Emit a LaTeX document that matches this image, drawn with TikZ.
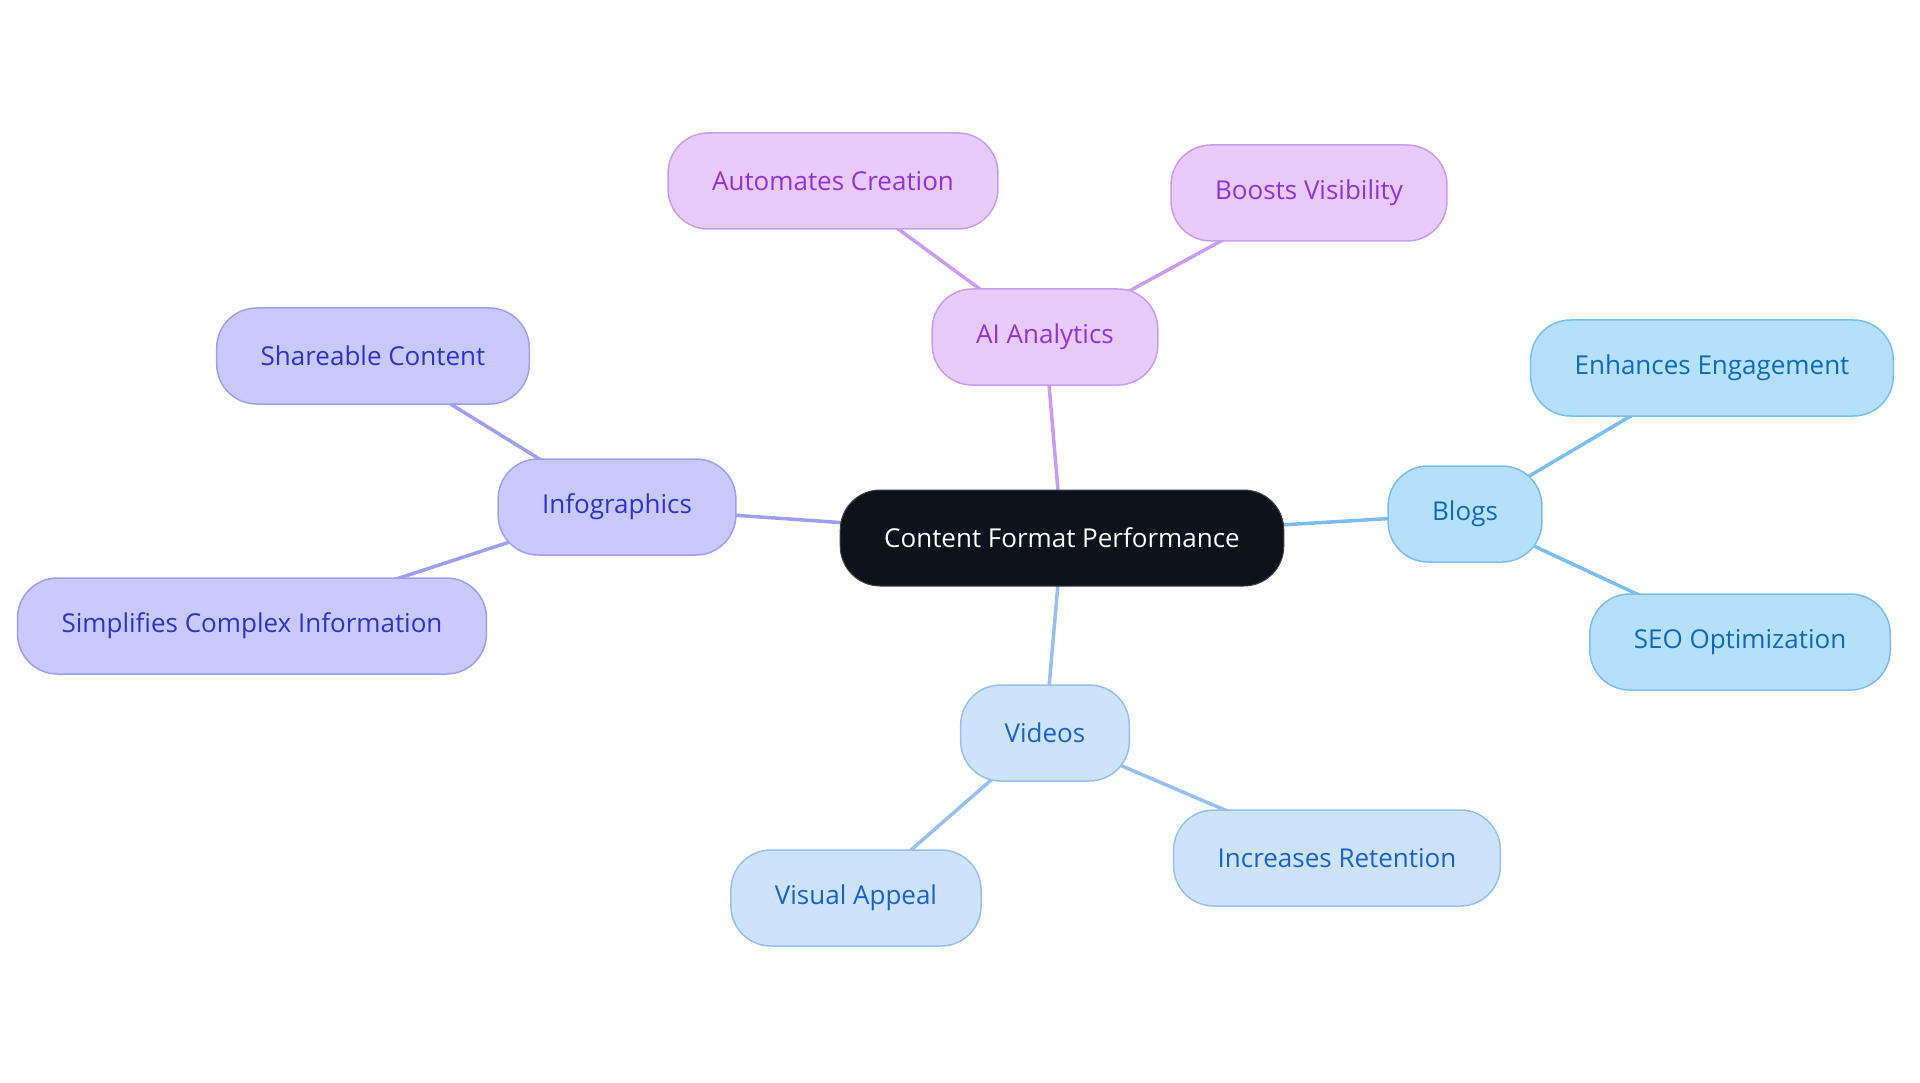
\documentclass[tikz,border=0pt]{standalone}
\usepackage{fontspec}
\setmainfont{Open Sans}
\usetikzlibrary{backgrounds}
\definecolor{pfill}{HTML}{E8CBFD}
\definecolor{pdraw}{HTML}{C99CF0}
\definecolor{ptext}{HTML}{9233D8}
\definecolor{ifill}{HTML}{C8C9FC}
\definecolor{idraw}{HTML}{9EA0EF}
\definecolor{itext}{HTML}{3232C8}
\definecolor{bfill}{HTML}{B6DFFC}
\definecolor{bdraw}{HTML}{7BBEEE}
\definecolor{btext}{HTML}{0B6BB8}
\definecolor{vfill}{HTML}{CDE3FC}
\definecolor{vdraw}{HTML}{97C0EE}
\definecolor{vtext}{HTML}{1B62C6}
\definecolor{cfill}{HTML}{0C131D}
\tikzset{
  x=1pt, y=-1pt,
  mm/.style={rectangle, rounded corners=40pt, minimum height=96pt, inner xsep=44pt,
    line width=1.5pt, font=\fontsize{26}{30}\selectfont, anchor=center},
  purp/.style={mm, fill=pfill, draw=pdraw, text=ptext},
  indi/.style={mm, fill=ifill, draw=idraw, text=itext},
  blu/.style={mm, fill=bfill, draw=bdraw, text=btext},
  vid/.style={mm, fill=vfill, draw=vdraw, text=vtext},
  root/.style={mm, fill=cfill, draw=black!75, line width=1pt, text=white},
  link/.style={line width=3.5pt},
}
\begin{document}
\begin{tikzpicture}
\useasboundingbox (0,0) rectangle (1920,1083);
\node[root] (c) at (1062,538) {Content Format Performance};
\node[purp] (ai) at (1045,337) {AI Analytics};
\node[purp] (auto) at (833,181) {Automates Creation};
\node[purp] (boost) at (1309,193) {Boosts Visibility};
\node[indi] (info) at (617,507) {Infographics};
\node[indi] (share) at (373,356) {Shareable Content};
\node[indi] (simp) at (252,626) {Simplifies Complex Information};
\node[blu] (blogs) at (1465,514) {Blogs};
\node[blu] (enh) at (1712,368) {Enhances Engagement};
\node[blu] (seo) at (1740,642) {SEO Optimization};
\node[vid] (vids) at (1045,733) {Videos};
\node[vid] (vis) at (856,898) {Visual Appeal};
\node[vid] (incr) at (1337,858) {Increases Retention};
\begin{scope}[on background layer]
\fill[white] (0,0) rectangle (1920,1083);
\draw[link, pdraw] (c.center) -- (ai.center);
\draw[link, pdraw] (ai.center) -- (auto.center);
\draw[link, pdraw] (ai.center) -- (boost.center);
\draw[link, idraw] (c.center) -- (info.center);
\draw[link, idraw] (info.center) -- (share.center);
\draw[link, idraw] (info.center) -- (simp.center);
\draw[link, bdraw] (c.center) -- (blogs.center);
\draw[link, bdraw] (blogs.center) -- (enh.center);
\draw[link, bdraw] (blogs.center) -- (seo.center);
\draw[link, vdraw] (c.center) -- (vids.center);
\draw[link, vdraw] (vids.center) -- (vis.center);
\draw[link, vdraw] (vids.center) -- (incr.center);
\end{scope}
\end{tikzpicture}
\end{document}
